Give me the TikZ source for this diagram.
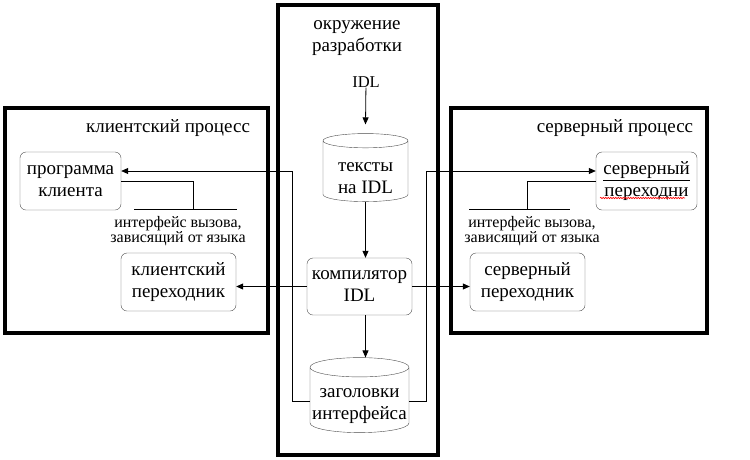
\documentclass[tikz,border=0pt]{standalone}
\usepackage{fontspec}
\setmainfont{Liberation Serif}
\usetikzlibrary{arrows.meta,shapes.geometric,decorations.pathmorphing}

\begin{document}
\begin{tikzpicture}[x=1pt,y=-1pt,
    frame/.style={line width=3.6pt},
    unit/.style={draw=black!70,rounded corners=6pt,align=center,inner sep=1pt,
      font=\fontsize{19}{22}\selectfont},
    store/.style={draw=black!70,cylinder,shape border rotate=90,align=center,
      inner sep=1pt,font=\fontsize{19}{22}\selectfont},
    lbl/.style={align=center,inner sep=0pt,font=\fontsize{19}{22}\selectfont},
    small/.style={align=center,inner sep=0pt,font=\fontsize{16}{15.5}\selectfont},
    arr/.style={-{Triangle[length=7pt,width=6pt]},line width=0.8pt},
    wire/.style={line width=0.8pt}]
  \useasboundingbox (0,0) rectangle (750,459);
  % Rahmen
  \draw[frame] (5,108) rectangle (268,333);
  \draw[frame] (278,5) rectangle (438,455);
  \draw[frame] (451,108) rectangle (707,333);
  % Titel
  \node[lbl] (cproc) at (168,128) {клиентский процесс};
  \node[lbl] (sproc) at (615,128) {серверный процесс};
  \node[lbl] (env) at (357,38) {окружение\\разработки};
  \node[lbl,font=\fontsize{16.5}{20}\selectfont] (idl) at (366,82) {IDL};
  % Mitte
  \node[store,minimum width=85pt,minimum height=68pt,aspect=0.25] (src) at (365.5,172) {\phantom{тексты}\\\phantom{на IDL}};
  \node[lbl] (srct) at (365.5,178) {тексты\\на IDL};
  \node[unit,minimum width=105pt,minimum height=57pt] (comp) at (359.5,286.5) {компилятор\\IDL};
  \node[store,minimum width=99pt,minimum height=75pt,aspect=0.2] (hdr) at (359.5,401) {\phantom{заголовки}\\\phantom{интерфейса}};
  \node[lbl] (hdrt) at (359.5,406) {заголовки\\интерфейса};
  % Klient
  \node[unit,minimum width=101pt,minimum height=58pt] (prog) at (70.5,181) {программа\\клиента};
  \node[unit,minimum width=115pt,minimum height=58pt] (cstub) at (178.5,282) {клиентский\\переходник};
  \node[small] (cif) at (178,231) {интерфейс вызова,\\зависящий от языка};
  % Server
  \node[unit,minimum width=101pt,minimum height=58pt] (sprog) at (646.5,181) {\underline{серверный}\\переходни};
  \node[unit,minimum width=115pt,minimum height=58pt] (sstub) at (527.5,282) {серверный\\переходник};
  \node[small] (sif) at (532,231) {интерфейс вызова,\\зависящий от языка};
  % Pfeile
  \draw[arr] (idl) -- ([yshift=9pt]src.top);
  \draw[arr] (src.bottom) -- (src.bottom |- comp.north);
  \draw[arr] (src.bottom |- comp.south) -- (src.bottom |- hdr.top);
  \draw[arr] (comp.west) -- (comp.west -| cstub.east);
  \draw[arr] (comp.east) -- (comp.east -| sstub.west);
  \draw[arr] (hdr.west) -- ++(-17,0) |- ([yshift=10pt]prog.east);
  \draw[arr] (hdr.east) -- ++(17,0) |- ([yshift=10pt]sprog.west);
  % Aufrufschnittstelle
  \coordinate (ctee) at (193,209);
  \coordinate (stee) at (527,209);
  \draw[wire] (prog.east) -| (ctee);
  \draw[wire] (134,209) -- (237,209);
  \draw[wire] (sprog.west) -| (stee);
  \draw[wire] (469,209) -- (570,209);
  % Rechtschreibung
  \draw[red,line width=0.6pt,decorate,decoration={snake,amplitude=0.7pt,segment length=2.5pt}] (600,198) -- (685,198);
\end{tikzpicture}
\end{document}
